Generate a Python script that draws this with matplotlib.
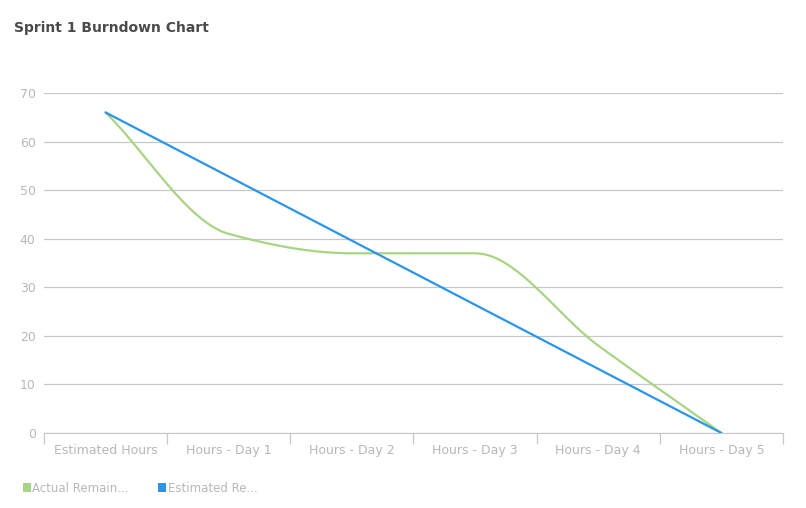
import numpy as np
import matplotlib.pyplot as plt
from matplotlib.patches import Patch

categories = ['Estimated Hours', 'Hours - Day 1', 'Hours - Day 2',
              'Hours - Day 3', 'Hours - Day 4', 'Hours - Day 5']
actual = [66, 41, 37, 37, 18, 0]
estimated = [66, 52.8, 39.6, 26.4, 13.2, 0]
legend_labels = ['Actual Remain...', 'Estimated Re...']

green = '#a8d483'
blue = '#2b95e9'
label_font = ['Liberation Sans Narrow', 'DejaVu Sans']


def monotone(x, y, n=40):
    # monotone cubic interpolation (Fritsch-Carlson), for the smooth line
    x = np.asarray(x, float)
    y = np.asarray(y, float)
    h = np.diff(x)
    d = np.diff(y) / h
    m = np.zeros_like(y)
    m[0], m[-1] = d[0], d[-1]
    for i in range(1, len(y) - 1):
        if d[i - 1] * d[i] <= 0:
            m[i] = 0
        else:
            w1 = 2 * h[i] + h[i - 1]
            w2 = h[i] + 2 * h[i - 1]
            m[i] = (w1 + w2) / (w1 / d[i - 1] + w2 / d[i])
    xs, ys = [], []
    for i in range(len(h)):
        t = np.linspace(0, 1, n)
        h00 = 2 * t**3 - 3 * t**2 + 1
        h10 = t**3 - 2 * t**2 + t
        h01 = -2 * t**3 + 3 * t**2
        h11 = t**3 - t**2
        xs.append(x[i] + t * h[i])
        ys.append(h00 * y[i] + h10 * h[i] * m[i] + h01 * y[i + 1] + h11 * h[i] * m[i + 1])
    return np.concatenate(xs), np.concatenate(ys)


fig = plt.figure(figsize=(8.06, 5.08), dpi=100)
ax = fig.add_axes([44 / 806, 75 / 508, (783 - 44) / 806, (433 - 93) / 508])

pos = np.arange(len(categories))
sx, sy = monotone(pos, actual)
ax.plot(sx, sy, color=green, linewidth=1.6, solid_capstyle='round', zorder=3)
ax.plot(pos, estimated, color=blue, linewidth=1.6, solid_capstyle='round', zorder=4)

ax.set_xlim(-0.5, len(categories) - 0.5)
ax.set_ylim(0, 70)
ax.set_yticks(range(0, 71, 10))
ax.yaxis.grid(True, color='#c8c8c8', linewidth=0.9)
ax.set_axisbelow(True)
for s in ['top', 'right', 'left']:
    ax.spines[s].set_visible(False)
ax.spines['bottom'].set_color('#c8c8c8')
ax.tick_params(axis='y', length=0, pad=6, labelcolor='#b8b8b8', labelsize=9)

ax.set_xticks(pos)
ax.set_xticklabels(categories, fontfamily=label_font)
ax.tick_params(axis='x', which='major', length=0, pad=8, labelcolor='#b8b8b8', labelsize=9)
ax.set_xticks(np.arange(-0.5, len(categories), 1), minor=True)
ax.tick_params(axis='x', which='minor', length=8, color='#c8c8c8', width=0.9)
for lab in ax.get_yticklabels():
    lab.set_fontfamily(label_font)

fig.text(14 / 806, 1 - 28 / 508, 'Sprint 1 Burndown Chart', fontsize=10,
         fontweight='bold', color='#4a4a4a', va='center', ha='left')

handles = [Patch(facecolor=green, edgecolor='none'), Patch(facecolor=blue, edgecolor='none')]
leg = fig.legend(handles, legend_labels, loc='center left',
                 bbox_to_anchor=(12 / 806, 1 - 488 / 508), ncol=2, frameon=False,
                 handlelength=0.7, handleheight=0.9, handletextpad=0.1,
                 columnspacing=2.5, prop={'family': label_font, 'size': 8.5})
for t in leg.get_texts():
    t.set_color('#b8b8b8')

fig.savefig('out.png', dpi=100)
